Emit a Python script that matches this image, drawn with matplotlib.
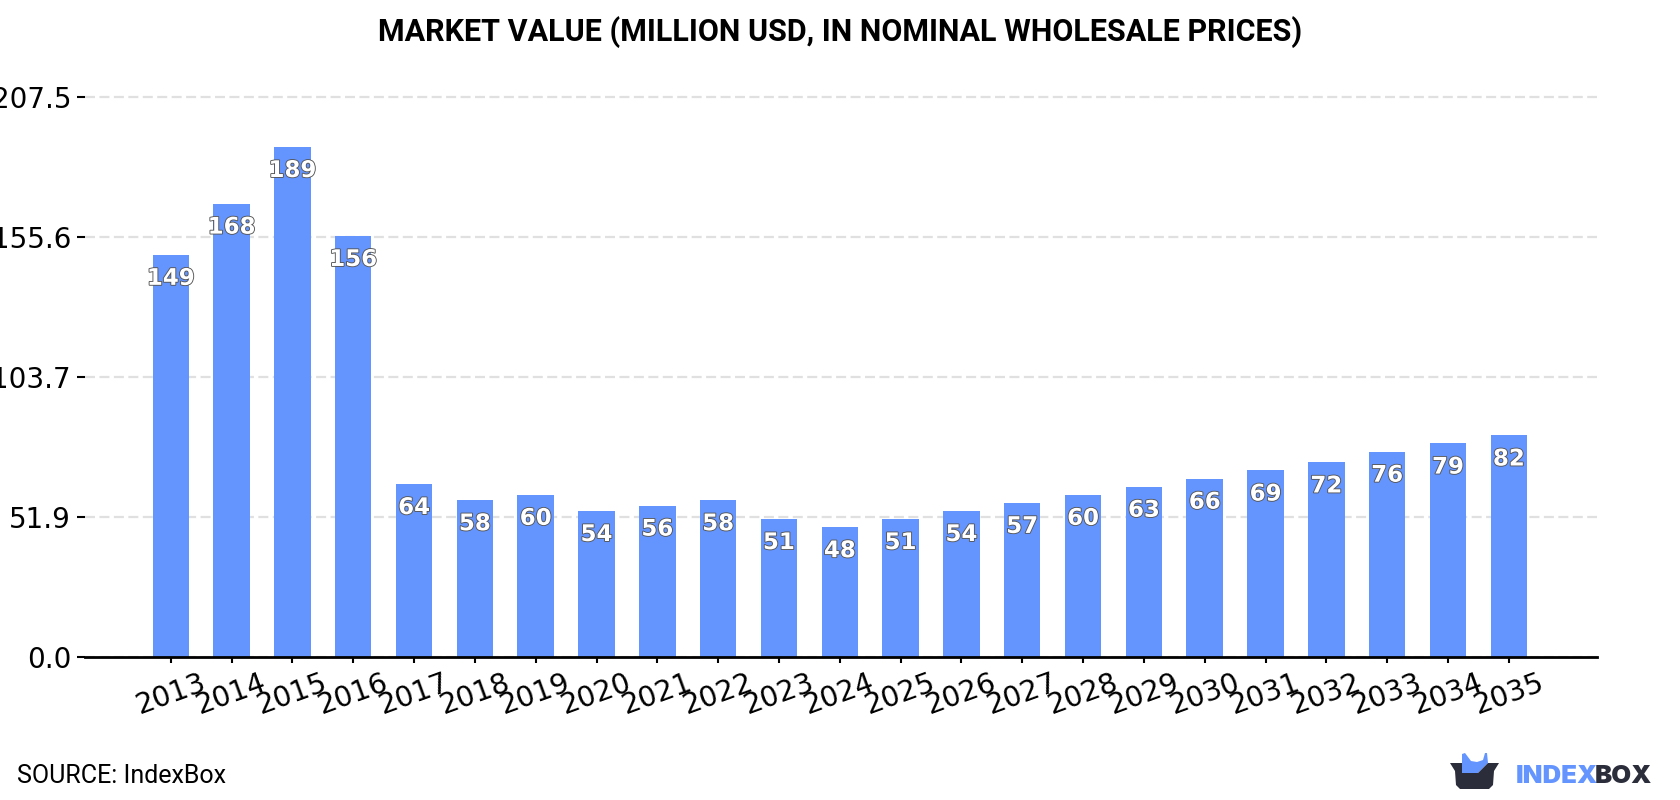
#!/usr/bin/env python3
"""Plot market value bars with the IndexBox footer."""

import matplotlib

matplotlib.use("Agg")
from matplotlib import patheffects
from matplotlib import pyplot as plt
from matplotlib.patches import Polygon

years = list(range(2013, 2036))
values = [149, 168, 189, 156, 64, 58, 60, 54, 56, 58, 51, 48, 51, 54, 57, 60, 63, 66, 69, 72, 76, 79, 82]
y_ticks = [0.0, 51.9, 103.7, 155.6, 207.5]

BLUE = "#6495ff"
DARK = "#2b2d3b"
WIDTH = 1680
HEIGHT = 800

fig = plt.figure(figsize=(WIDTH / 100, HEIGHT / 100), dpi=100)
ax = fig.add_axes(
    [85 / WIDTH, 1 - 656.5 / HEIGHT, (1597 - 85) / WIDTH, (656.5 - 97) / HEIGHT]
)

positions = list(range(len(years)))
ax.bar(positions, values, width=0.6, color=BLUE, zorder=2)
ax.set_xlim(-1.41, 23.45)
ax.set_ylim(0, y_ticks[-1])

ax.set_yticks(y_ticks, [f"{tick:.1f}" for tick in y_ticks])
ax.set_xticks(positions, years, rotation=20, ha="center")
ax.tick_params(axis="y", labelsize=20, length=6, width=1.5, pad=4)
ax.tick_params(axis="x", labelsize=20.5, length=4.5, width=1.5, pad=4)
for tick in ax.yaxis.get_major_ticks():
    tick.gridline.set_clip_on(False)
ax.grid(axis="y", color="#e0e0e0", linestyle=(0, (4.5, 2)), linewidth=1.6, zorder=1)
ax.set_axisbelow(True)

for side in ("top", "left", "right"):
    ax.spines[side].set_visible(False)
ax.spines["bottom"].set_linewidth(2)
ax.spines["bottom"].set_zorder(4)

# Value labels sit just inside the top of each bar.
for x, value in zip(positions, values):
    ax.annotate(
        str(value),
        (x, value),
        xytext=(0, -17),
        textcoords="offset points",
        ha="center",
        va="center",
        fontsize=16.5,
        fontweight="bold",
        color="white",
        zorder=5,
        path_effects=[patheffects.withStroke(linewidth=1.3, foreground="#555555")],
    )

fig.text(
    0.5,
    1 - 32 / HEIGHT,
    "MARKET VALUE (MILLION USD, IN NOMINAL WHOLESALE PRICES)",
    ha="center",
    va="center",
    fontsize=22,
    fontweight="bold",
    family="Roboto",
)
fig.text(
    17 / WIDTH,
    1 - 776 / HEIGHT,
    "SOURCE: IndexBox",
    ha="left",
    va="center",
    fontsize=18,
    family="Roboto",
)

# Logo drawn on an overlay using pixel coordinates, y pointing down.
logo = fig.add_axes([0, 0, 1, 1], facecolor="none")
logo.set_xlim(0, WIDTH)
logo.set_ylim(HEIGHT, 0)
logo.axis("off")
logo.add_patch(
    Polygon(
        [(1462, 754), (1465, 753), (1471, 761), (1477, 762), (1483, 760), (1485, 753),
         (1487, 753), (1488, 763), (1478, 773), (1462, 773)],
        closed=True,
        color=BLUE,
        linewidth=0,
    )
)
logo.add_patch(
    Polygon(
        [(1450, 763), (1462, 763), (1462, 773), (1478, 773), (1488, 763), (1499, 763),
         (1494, 771), (1493, 785), (1489, 789), (1460, 789), (1456, 785), (1455, 771)],
        closed=True,
        color=DARK,
        linewidth=0,
    )
)
logo.text(1516, 774, "INDEX", color=BLUE, fontsize=18.5, fontweight=900,
          family="Inter", ha="left", va="center_baseline")
logo.text(1595, 774, "BOX", color=DARK, fontsize=18.5, fontweight=900,
          family="Inter", ha="left", va="center_baseline")

fig.savefig("out.png", dpi=100)
